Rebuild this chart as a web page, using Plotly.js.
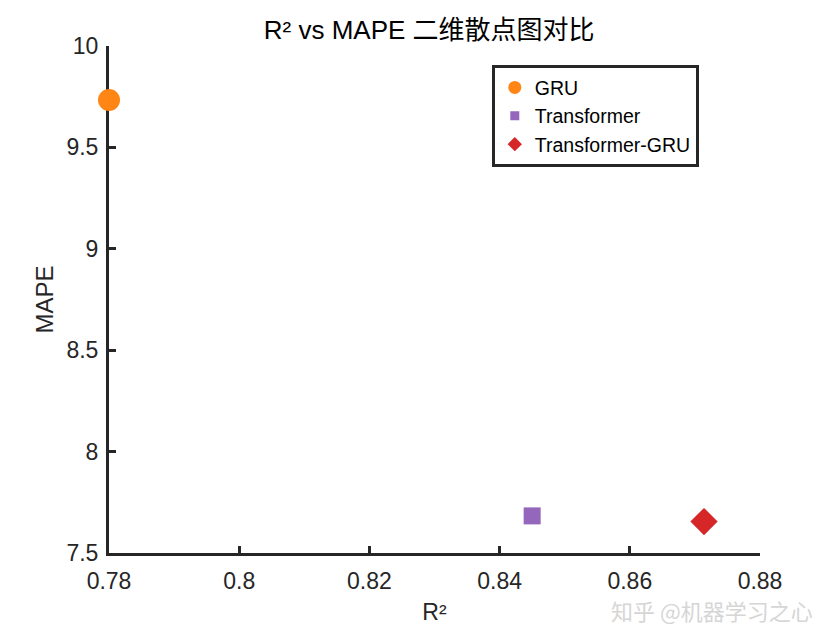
<!DOCTYPE html>
<html>
<head>
<meta charset="utf-8">
<script src="https://cdn.plot.ly/plotly-3.0.1.min.js"></script>
<style>html,body{margin:0;padding:0;background:#fff;}#chart{width:840px;height:630px;}</style>
</head>
<body>
<div id="chart"></div>
<script>
const models = ["GRU", "Transformer", "Transformer-GRU"];
const r2Values = [0.780, 0.845, 0.8714];
const mapeValues = [9.734, 7.683, 7.655];
const xTicks = [0.78, 0.8, 0.82, 0.84, 0.86, 0.88];
const xTickLabels = ["0.78", "0.8", "0.82", "0.84", "0.86", "0.88"];
const yTicks = [7.5, 8, 8.5, 9, 9.5, 10];
const yTickLabels = ["7.5", "8", "8.5", "9", "9.5", "10"];

const colors = ["#FF8515", "#9467BD", "#D62728"];
const symbols = ["circle", "square", "diamond"];
const sizes = [22, 17, 21];
const legendSizes = [13, 9, 11];

const traces = [];
models.forEach((m, i) => {
  traces.push({
    type: "scatter", mode: "markers", name: m, legendgroup: m, showlegend: false,
    x: [r2Values[i]], y: [mapeValues[i]], cliponaxis: false,
    marker: {color: colors[i], symbol: symbols[i], size: sizes[i], line: {width: 0}}
  });
});
models.forEach((m, i) => {
  traces.push({
    type: "scatter", mode: "markers", name: m, legendgroup: m, showlegend: true,
    x: [null], y: [null],
    marker: {color: colors[i], symbol: symbols[i], size: legendSizes[i], line: {width: 0}}
  });
});

const font = "Liberation Sans, Arial, Noto Sans CJK SC, sans-serif";
const axisCommon = {
  showgrid: false, zeroline: false, showline: true, mirror: false,
  linecolor: "#262626", linewidth: 3,
  ticks: "inside", ticklen: 7, tickwidth: 3, tickcolor: "#262626",
  tickfont: {family: font, size: 23, color: "#262626"},
  layer: "below traces"
};

const layout = {
  width: 840, height: 630,
  margin: {l: 109, r: 80, t: 46, b: 77},
  paper_bgcolor: "#fff", plot_bgcolor: "#fff",
  font: {family: font, color: "#000"},
  title: {text: "R² vs MAPE 二维散点图对比", font: {family: font, size: 26, color: "#000"},
          xref: "container", x: 0.511, xanchor: "center", y: 0.952, yanchor: "middle"},
  xaxis: Object.assign({}, axisCommon, {
    range: [0.78, 0.88], tickmode: "array", tickvals: xTicks, ticktext: xTickLabels,
    ticklabelstandoff: 5,
    title: {text: "R²", font: {family: font, size: 23, color: "#262626"}, standoff: 12}
  }),
  yaxis: Object.assign({}, axisCommon, {
    range: [7.5, 10], tickmode: "array", tickvals: yTicks, ticktext: yTickLabels,
    ticklabelstandoff: 3,
    title: {text: "MAPE", font: {family: font, size: 24, color: "#262626"}, standoff: 7}
  }),
  showlegend: true,
  legend: {
    x: 0.588, y: 0.962, xanchor: "left", yanchor: "top",
    bgcolor: "#fff", bordercolor: "#262626", borderwidth: 3,
    font: {family: font, size: 19.5, color: "#000"},
    itemwidth: 30, tracegroupgap: 0
  },
  annotations: [{
    text: "知乎 @机器学习之心", xref: "paper", yref: "paper", x: 1.085, y: -0.113,
    xanchor: "right", yanchor: "middle", showarrow: false,
    font: {family: "Noto Sans CJK SC, sans-serif", size: 22, color: "#d6d6d6"}
  }]
};

Plotly.newPlot("chart", traces, layout, {displayModeBar: false, staticPlot: true});
</script>
</body>
</html>
